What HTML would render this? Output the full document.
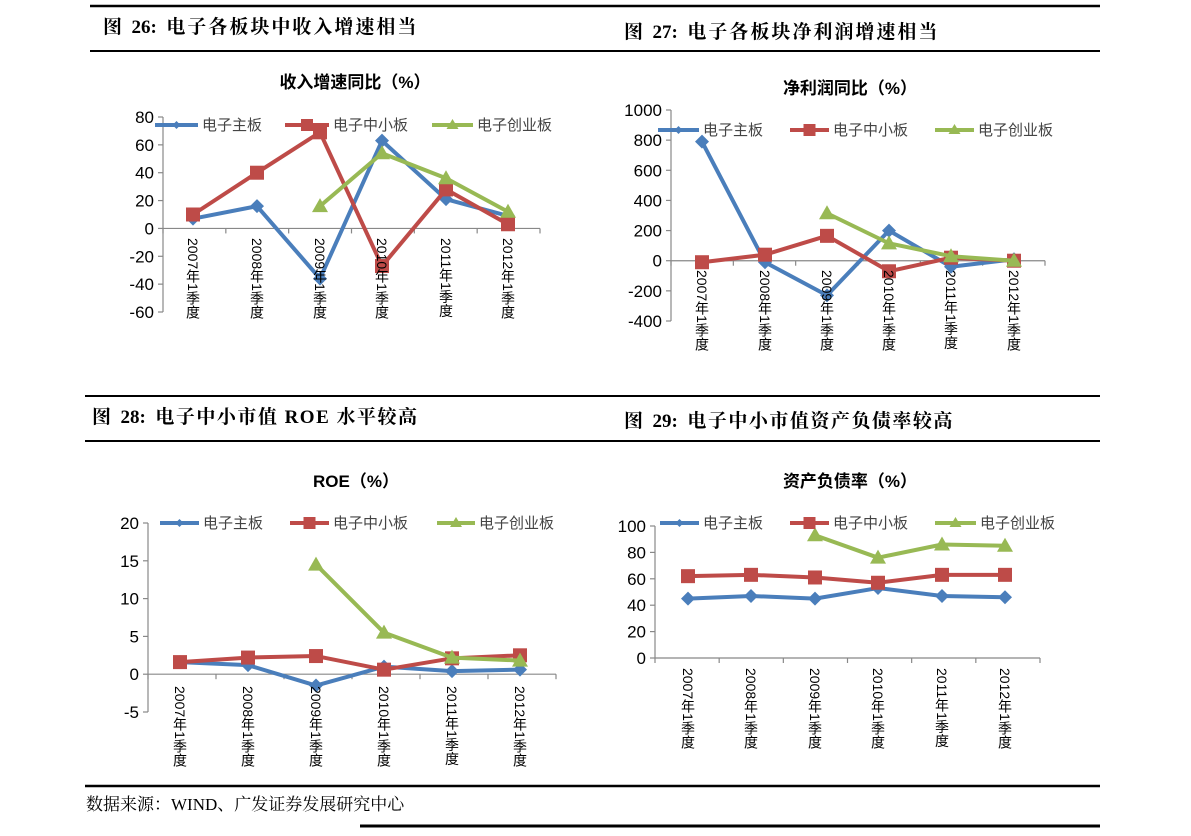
<!DOCTYPE html>
<html><head><meta charset="utf-8">
<style>
body{margin:0;width:1191px;height:836px;background:#fff;position:relative;overflow:hidden;font-family:"Liberation Sans","Noto Sans CJK SC",sans-serif;}
svg{position:absolute;left:0;top:0}
.v{position:absolute;writing-mode:vertical-rl;text-orientation:mixed;font-size:14px;line-height:14px;color:#000;transform:translateX(-50%);white-space:nowrap}
</style></head><body>
<svg id="s" width="1191" height="836" xmlns="http://www.w3.org/2000/svg" font-family="Liberation Sans, Noto Sans CJK SC, sans-serif">
<g stroke="#000" fill="none">
<line x1="90" y1="6" x2="1100" y2="6" stroke-width="2.5"/>
<line x1="90" y1="51" x2="1100" y2="51" stroke-width="2"/>
<line x1="85" y1="396" x2="1100" y2="396" stroke-width="2"/>
<line x1="85" y1="441" x2="1100" y2="441" stroke-width="2"/>
<line x1="85" y1="786" x2="1100" y2="786" stroke-width="2.5"/>
<line x1="360" y1="826" x2="1100" y2="826" stroke-width="3"/>
</g>
<g font-family="Liberation Serif, Noto Serif CJK SC, serif" font-weight="bold" font-size="19" fill="#000">
<text x="103" y="33">图&#160;&#160;26:&#160;&#160;<tspan letter-spacing="2">电子各板块中收入增速相当</tspan></text>
<text x="624" y="38">图&#160;&#160;27:&#160;&#160;<tspan letter-spacing="2">电子各板块净利润增速相当</tspan></text>
<text x="92" y="423">图&#160;&#160;28:&#160;&#160;<tspan letter-spacing="1.5">电子中小市值 ROE 水平较高</tspan></text>
<text x="624" y="427">图&#160;&#160;29:&#160;&#160;<tspan letter-spacing="1.5">电子中小市值资产负债率较高</tspan></text>
</g>
<text x="86" y="810" font-family="Liberation Serif, Noto Serif CJK SC, serif" font-size="17">数据来源：WIND、广发证券发展研究中心</text>
<g font-weight="bold" font-size="17" text-anchor="middle" fill="#000">
<text x="355" y="88">收入增速同比（%）</text>
<text x="850" y="94">净利润同比（%）</text>
<text x="356" y="487">ROE（%）</text>
<text x="850" y="487">资产负债率（%）</text>
</g>
<g id="charts"></g>
</svg>
<div id="lab"></div>
<script>
var B='#4a7ebb',R='#be4b48',G='#98b954';
var charts=[
{ax:163,x0:163,x1:540,ymap:[80,117,-60,312],ticks:[80,60,40,20,0,-20,-40,-60],cx:[193,257,320,382,446,508],labTop:238,
 d:[[7,16,-36,63,21,9],[10,40,69,-27,28,3],[null,null,16,54,36,12]],leg:[125,155,202,285,333,432,477]},
{ax:671,x0:671,x1:1045,ymap:[1000,110,-400,321],ticks:[1000,800,600,400,200,0,-200,-400],cx:[702,765,827,889,951,1014],labTop:270,
 d:[[790,-10,-230,200,-40,10],[-10,40,165,-70,20,0],[null,null,315,115,30,0]],leg:[130,658,703,790,833,935,978]},
{ax:148,x0:148,x1:556,ymap:[20,523,-5,712],ticks:[20,15,10,5,0,-5],cx:[180,248,316,384,452,520],labTop:686,
 d:[[1.6,1.2,-1.5,1.0,0.4,0.6],[1.6,2.2,2.4,0.6,2.1,2.5],[null,null,14.5,5.5,2.2,1.8]],leg:[523,160,203,290,333,437,479]},
{ax:655,x0:655,x1:1040,ymap:[100,526,0,658],ticks:[100,80,60,40,20,0],cx:[688,751,815,878,942,1005],labTop:668,
 d:[[45,47,45,53,47,46],[62,63,61,57,63,63],[null,null,93,76,86,85]],leg:[523,660,703,790,833,935,980]}
];
var h='',lab='';
function mk(t,x,y,c){
 if(t==0)return '<polygon points="'+x+','+(y-7)+' '+(x+7)+','+y+' '+x+','+(y+7)+' '+(x-7)+','+y+'" fill="'+c+'"/>';
 if(t==1)return '<rect x="'+(x-7)+'" y="'+(y-7)+'" width="14" height="14" fill="'+c+'"/>';
 return '<polygon points="'+x+','+(y-8)+' '+(x+8)+','+(y+6)+' '+(x-8)+','+(y+6)+'" fill="'+c+'"/>';
}
charts.forEach(function(c){
 var m=c.ymap;function Y(v){return m[1]+(v-m[0])*(m[3]-m[1])/(m[2]-m[0]);}
 var yt=Y(m[0]),yb=Y(m[2]),y0=Y(0);
 h+='<g stroke="#888" stroke-width="1.2"><line x1="'+c.ax+'" y1="'+yt+'" x2="'+c.ax+'" y2="'+yb+'"/><line x1="'+c.x0+'" y1="'+y0+'" x2="'+c.x1+'" y2="'+y0+'"/>';
 c.ticks.forEach(function(t){h+='<line x1="'+(c.ax-5)+'" y1="'+Y(t)+'" x2="'+c.ax+'" y2="'+Y(t)+'"/>';});
 var step=(c.x1-c.x0)/6;for(var i=0;i<=6;i++){var x=c.x0+step*i;h+='<line x1="'+x+'" y1="'+y0+'" x2="'+x+'" y2="'+(y0+5)+'"/>';}
 h+='</g>';
 c.ticks.forEach(function(t){h+='<text x="'+(c.ax-9)+'" y="'+(Y(t)+6)+'" font-size="17" text-anchor="end">'+t+'</text>';});
 var cols=[B,R,G],names=['电子主板','电子中小板','电子创业板'];
 c.d.forEach(function(s,k){
  var pts=[];s.forEach(function(v,i){if(v!==null)pts.push(c.cx[i]+','+Y(v));});
  h+='<polyline points="'+pts.join(' ')+'" fill="none" stroke="'+cols[k]+'" stroke-width="4" stroke-linejoin="round"/>';
  s.forEach(function(v,i){if(v!==null)h+=mk(k,c.cx[i],Y(v),cols[k]);});
 });
 var L=c.leg,ly=L[0];
 for(var k=0;k<3;k++){var lx=L[1+2*k],tx=L[2+2*k];
  h+='<line x1="'+lx+'" y1="'+ly+'" x2="'+(tx-4)+'" y2="'+ly+'" stroke="'+cols[k]+'" stroke-width="4"/>';
  var mx=(lx+tx-4)/2;h+=(k==0?'<polygon points="'+mx+','+(ly-4)+' '+(mx+4)+','+ly+' '+mx+','+(ly+4)+' '+(mx-4)+','+ly+'" fill="'+B+'"/>':k==1?'<rect x="'+(mx-6)+'" y="'+(ly-6)+'" width="12" height="12" fill="'+R+'"/>':'<polygon points="'+mx+','+(ly-6)+' '+(mx+6)+','+(ly+4)+' '+(mx-6)+','+(ly+4)+'" fill="'+G+'"/>');
  h+='<text x="'+tx+'" y="'+(ly+5)+'" font-size="15" fill="#444">'+names[k]+'</text>';}
 ['2007','2008','2009','2010','2011','2012'].forEach(function(yr,i){lab+='<div class="v" style="left:'+c.cx[i]+'px;top:'+c.labTop+'px">'+yr+'年1季度</div>';});
});
document.getElementById('charts').innerHTML=h;
document.getElementById('lab').innerHTML=lab;
</script>
</body></html>
